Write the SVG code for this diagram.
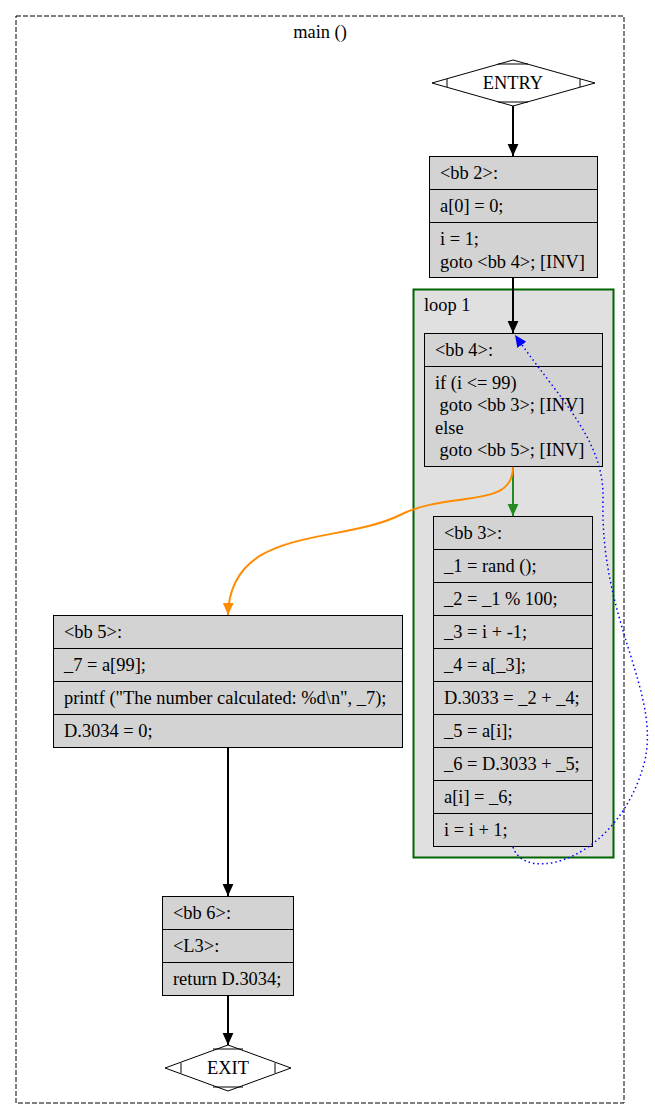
<svg xmlns="http://www.w3.org/2000/svg" width="655" height="1119" viewBox="0 0 655 1119">
<style>
text{font-family:"Liberation Serif","Times New Roman",serif;font-size:18.4px;fill:#000}
.box{fill:#d3d3d3;stroke:#000;stroke-width:1}
.sep{stroke:#000;stroke-width:1}
.e{fill:none;stroke-width:2}
</style>
<defs>
<marker id="ak" viewBox="0 0 10 10" refX="10" refY="5" markerWidth="6" markerHeight="6" orient="auto" markerUnits="strokeWidth"><path d="M0,0.5L10,5L0,9.5z" fill="#000"/></marker>
<marker id="ag" viewBox="0 0 10 10" refX="10" refY="5" markerWidth="6" markerHeight="6" orient="auto" markerUnits="strokeWidth"><path d="M0,0.5L10,5L0,9.5z" fill="#228b22"/></marker>
<marker id="ao" viewBox="0 0 10 10" refX="10" refY="5" markerWidth="6" markerHeight="6" orient="auto" markerUnits="strokeWidth"><path d="M0,0.5L10,5L0,9.5z" fill="#ff8c00"/></marker>
<marker id="ab" viewBox="0 0 10 10" refX="10" refY="5" markerWidth="12" markerHeight="12" orient="auto" markerUnits="userSpaceOnUse"><path d="M0,0.5L10,5L0,9.5z" fill="#0000ff"/></marker>
</defs>
<rect width="655" height="1119" fill="#fff"/>
<g id="cluster_main">
<rect x="16" y="16" width="608" height="1087" fill="none" stroke="#000" stroke-dasharray="5,2"/>
<text x="320" y="38" text-anchor="middle">main ()</text>
</g>
<g id="cluster_loop1">
<rect x="413.5" y="289.5" width="200" height="568" fill="#e0e0e0" stroke="#006400" stroke-width="2"/>
<text x="424" y="311">loop 1</text>
</g>
<g id="entry">
<polygon points="432,83 513,60 595,83 513,106" fill="#fff" stroke="#000"/>
<path d="M447,79L447,87M498,64L528,64M580,79L580,87M498,102L528,102" stroke="#000" fill="none"/>
<text x="513" y="89" text-anchor="middle">ENTRY</text>
</g>
<g id="bb2">
<rect class="box" x="429.5" y="156.5" width="168" height="121"/>
<path class="sep" d="M429.5,189.5H597.5M429.5,222.5H597.5"/>
<text x="440" y="179">&lt;bb 2&gt;:</text>
<text x="440" y="212">a[0] = 0;</text>
<text x="440" y="245">i = 1;</text>
<text x="440" y="268">goto &lt;bb 4&gt;; [INV]</text>
</g>
<g id="bb4">
<rect class="box" x="424.5" y="333.5" width="178" height="133"/>
<path class="sep" d="M424.5,366.5H602.5"/>
<text x="435" y="356">&lt;bb 4&gt;:</text>
<text x="435" y="389">if (i &lt;= 99)</text>
<text x="435" y="411" xml:space="preserve"> goto &lt;bb 3&gt;; [INV]</text>
<text x="435" y="434">else</text>
<text x="435" y="456" xml:space="preserve"> goto &lt;bb 5&gt;; [INV]</text>
</g>
<g id="bb3">
<rect class="box" x="433.5" y="516.5" width="159" height="330"/>
<path class="sep" d="M433.5,549.5H592.5M433.5,582.5H592.5M433.5,615.5H592.5M433.5,648.5H592.5M433.5,681.5H592.5M433.5,714.5H592.5M433.5,747.5H592.5M433.5,780.5H592.5M433.5,813.5H592.5"/>
<text x="444" y="539">&lt;bb 3&gt;:</text>
<text x="444" y="572">_1 = rand ();</text>
<text x="444" y="605">_2 = _1 % 100;</text>
<text x="444" y="638">_3 = i + -1;</text>
<text x="444" y="671">_4 = a[_3];</text>
<text x="444" y="704">D.3033 = _2 + _4;</text>
<text x="444" y="737">_5 = a[i];</text>
<text x="444" y="770">_6 = D.3033 + _5;</text>
<text x="444" y="803">a[i] = _6;</text>
<text x="444" y="836">i = i + 1;</text>
</g>
<g id="bb5">
<rect class="box" x="53.5" y="615.5" width="349" height="132"/>
<path class="sep" d="M53.5,648.5H402.5M53.5,681.5H402.5M53.5,714.5H402.5"/>
<text x="64" y="638">&lt;bb 5&gt;:</text>
<text x="64" y="671">_7 = a[99];</text>
<text x="64" y="704">printf ("The number calculated: %d\n", _7);</text>
<text x="64" y="737">D.3034 = 0;</text>
</g>
<g id="bb6">
<rect class="box" x="162.5" y="896.5" width="131" height="99"/>
<path class="sep" d="M162.5,929.5H293.5M162.5,962.5H293.5"/>
<text x="173" y="919">&lt;bb 6&gt;:</text>
<text x="173" y="952">&lt;L3&gt;:</text>
<text x="173" y="985">return D.3034;</text>
</g>
<g id="exit">
<polygon points="165,1068 228,1045 291,1068 228,1091" fill="#fff" stroke="#000"/>
<path d="M181,1063L181,1073M213,1049L243,1049M275,1063L275,1073M213,1087L243,1087" stroke="#000" fill="none"/>
<text x="228" y="1074" text-anchor="middle">EXIT</text>
</g>
<g id="edges">
<path class="e" stroke="#000" marker-end="url(#ak)" d="M513,106V156"/>
<path class="e" stroke="#000" marker-end="url(#ak)" d="M513,278V333"/>
<path class="e" stroke="#228b22" marker-end="url(#ag)" d="M513,467V516"/>
<path class="e" stroke="#ff8c00" marker-end="url(#ao)" d="M513,467C513,510 450,490 400,515C340,545 230,525 228,615"/>
<path fill="none" stroke="#0000ff" stroke-width="1.5" stroke-dasharray="1.5,3" marker-end="url(#ab)" d="M513,847C525,885 620,860 645,760C660,690 600,620 603,500C605,440 560,400 515,335"/>
<path class="e" stroke="#000" marker-end="url(#ak)" d="M228,748V896"/>
<path class="e" stroke="#000" marker-end="url(#ak)" d="M228,996V1045"/>
</g>
</svg>
